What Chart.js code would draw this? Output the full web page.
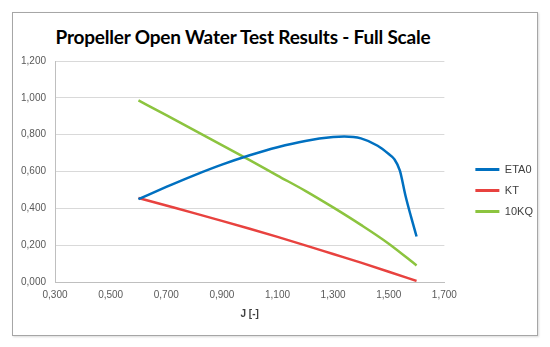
<!DOCTYPE html>
<html>
<head>
<meta charset="utf-8">
<script src="https://cdn.jsdelivr.net/npm/chart.js@4.4.1/dist/chart.umd.min.js"></script>
<style>
  html, body { margin: 0; padding: 0; background: #ffffff; }
  #wrap { position: relative; width: 550px; height: 347px; }
  #frame { position: absolute; left: 12px; top: 12px; width: 524px; height: 322px; border: 1px solid #a6a6a6; box-shadow: 1px 1px 2px rgba(0,0,0,0.15); }
  #title { position: absolute; left: 0; top: 25px; width: 486px; text-align: center; font-family: Lato, "Open Sans", sans-serif; font-weight: bold; font-size: 19px; color: #000; letter-spacing: -0.2px; }
  canvas { position: absolute; left: 0; top: 0; }
</style>
</head>
<body>
<div id="wrap">
  <div id="frame"></div>
  <div id="title">Propeller Open Water Test Results - Full Scale</div>
  <canvas id="c" width="550" height="347"></canvas>
</div>
<script>
// Advance coefficient J for KT and 10KQ
const jValues = [0.6, 0.7, 0.8, 0.9, 1.0, 1.1, 1.2, 1.3, 1.4, 1.5, 1.6];
const ktValues = [0.456, 0.415, 0.374, 0.332, 0.289, 0.245, 0.199, 0.152, 0.105, 0.056, 0.006];
const kq10Values = [0.986, 0.906, 0.825, 0.743, 0.662, 0.578, 0.495, 0.405, 0.310, 0.208, 0.090];
// J values and open-water efficiency
const etaJValues = [0.6, 0.7, 0.8, 0.9, 1.0, 1.1, 1.2, 1.3, 1.34, 1.4, 1.46, 1.5, 1.52, 1.54, 1.56, 1.58, 1.6];
const eta0Values = [0.450, 0.516, 0.579, 0.637, 0.688, 0.732, 0.766, 0.787, 0.790, 0.780, 0.740, 0.695, 0.667, 0.605, 0.470, 0.355, 0.247];
const seriesNames = ['ETA0', 'KT', '10KQ'];
const seriesColors = ['#0070c0', '#e8423f', '#8cc43f'];
const xTicks = [0.3, 0.5, 0.7, 0.9, 1.1, 1.3, 1.5, 1.7];
const yTicks = [0, 0.2, 0.4, 0.6, 0.8, 1.0, 1.2];

const toPts = (xs, ys) => xs.map((x, i) => ({ x: x, y: ys[i] }));
const fmt = v => Number(v).toFixed(3).replace('.', ',');

const datasets = [
  toPts(etaJValues, eta0Values),
  toPts(jValues, ktValues),
  toPts(jValues, kq10Values)
].map((d, i) => ({
  label: seriesNames[i],
  data: d,
  borderColor: seriesColors[i],
  backgroundColor: seriesColors[i],
  borderWidth: 2.5,
  pointRadius: 0,
  cubicInterpolationMode: 'monotone',
  fill: false
}));

const tickFont = { family: '"Liberation Sans", Arial, sans-serif', size: 10 };

// shift the legend a little to the right of the plot area, as in the reference
const legendShift = {
  id: 'legendShift',
  afterLayout(chart) {
    const lg = chart.legend;
    if (lg) { lg.left += 21; lg.right += 21; }
  }
};

new Chart(document.getElementById('c'), {
  type: 'line',
  data: { datasets: datasets },
  plugins: [legendShift],
  options: {
    responsive: false,
    animation: false,
    layout: { padding: { top: 61, left: 12, right: 28, bottom: 27 } },
    plugins: {
      title: { display: false },
      tooltip: { enabled: false },
      legend: {
        position: 'right',
        align: 'center',
        labels: {
          boxWidth: 24,
          boxHeight: 3,
          padding: 10,
          color: '#404040',
          font: { family: '"Liberation Sans", Arial, sans-serif', size: 11 },
          generateLabels: chart => chart.data.datasets.map((ds, i) => ({
            text: ds.label,
            fillStyle: ds.borderColor,
            strokeStyle: ds.borderColor,
            lineWidth: 0,
            hidden: false,
            datasetIndex: i,
            fontColor: '#404040'
          }))
        }
      }
    },
    scales: {
      x: {
        type: 'linear',
        min: 0.3,
        max: 1.7,
        afterBuildTicks: s => { s.ticks = xTicks.map(v => ({ value: v })); },
        grid: { display: false, drawTicks: false },
        border: { display: true, color: '#bfbfbf', width: 1 },
        ticks: { padding: 7, color: '#595959', font: tickFont, maxRotation: 0, callback: v => fmt(v) },
        title: { display: true, text: 'J [-]', color: '#404040', font: { family: '"Liberation Sans", Arial, sans-serif', size: 10, weight: 'bold' }, padding: { top: 0, bottom: 0 } }
      },
      y: {
        min: 0,
        max: 1.2,
        afterBuildTicks: s => { s.ticks = yTicks.map(v => ({ value: v })); },
        grid: { color: '#d9d9d9', lineWidth: 1, drawTicks: false },
        border: { display: true, color: '#bfbfbf', width: 1 },
        ticks: { padding: 9, color: '#595959', font: tickFont, callback: v => fmt(v) }
      }
    }
  }
});
</script>
</body>
</html>
